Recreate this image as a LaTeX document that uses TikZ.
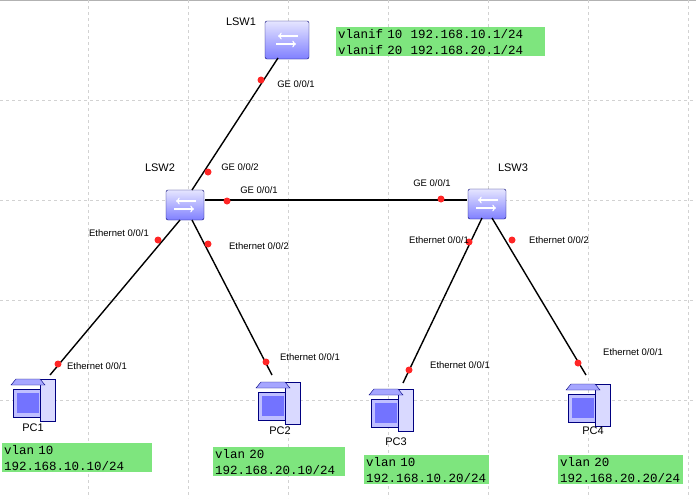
\documentclass[tikz,border=0pt]{standalone}
\usepackage{fontspec}
\setmainfont{Liberation Sans}
\newfontfamily\monof{Liberation Mono}
\begin{document}
\begin{tikzpicture}[x=1pt,y=-1pt,
 grid/.style={gray!35,dashed,line width=0.6pt},
 link/.style={black,line width=1.4pt},
 dot/.style={circle,fill=red!85!white,inner sep=0pt,minimum size=7pt},
 lbl/.style={font=\fontsize{9.5}{10}\selectfont,inner sep=0pt},
 devname/.style={font=\fontsize{11}{12}\selectfont,inner sep=0pt},
 info/.style={fill=green!45!white!90!black,font=\monof\fontsize{12.5}{16}\selectfont,align=left,anchor=north west,inner sep=2pt,text width=#1},
 sw/.style={draw=blue!45!black,rounded corners=2pt,top color=blue!10,bottom color=blue!50,minimum width=38pt,minimum height=30pt,inner sep=0pt},
 pc/.style={inner sep=0pt,minimum width=44pt,minimum height=44pt}]
\useasboundingbox (0,0) rectangle (696,498);
\draw[gray!60,line width=1pt] (0,0.5) -- (696,0.5);
\foreach \x in {88,188,288,388,488,588,688} \draw[grid] (\x,0) -- (\x,498);
\foreach \y in {100,200,300,400} \draw[grid] (0,\y) -- (696,\y);
% devices
\node[sw,minimum width=44pt,minimum height=38pt] (lsw1) at (287,40) {};
\node[sw] (lsw2) at (185,205) {};
\node[sw] (lsw3) at (487,204) {};
\foreach \n in {lsw1,lsw2,lsw3}{
 \draw[white,line width=1.4pt,->] ([xshift=-11pt,yshift=-4pt]\n.center) -- ([xshift=9pt,yshift=-4pt]\n.center);
 \draw[white,line width=1.4pt,<-] ([xshift=-9pt,yshift=4pt]\n.center) -- ([xshift=11pt,yshift=4pt]\n.center);}
\foreach \n/\p in {pc1/{(35,397)},pc2/{(280,400)},pc3/{(393,407)},pc4/{(590,402)}}{
 \node[pc] (\n) at \p {};
 \draw[blue!50!black,fill=blue!25] ([xshift=-22pt,yshift=-20pt]\n.center) rectangle ([xshift=8pt,yshift=8pt]\n.center);
 \fill[blue!55] ([xshift=-18pt,yshift=-16pt]\n.center) rectangle ([xshift=4pt,yshift=4pt]\n.center);
 \draw[blue!50!black,fill=blue!15] ([xshift=5pt,yshift=-24pt]\n.center) rectangle ([xshift=20pt,yshift=18pt]\n.center);
 \draw[blue!50!black,fill=blue!35] ([xshift=-24pt,yshift=12pt]\n.center) -- ([xshift=10pt,yshift=12pt]\n.center) -- ([xshift=5pt,yshift=18pt]\n.center) -- ([xshift=-19pt,yshift=18pt]\n.center) -- cycle;}
\node[devname] at (241,22) {LSW1};
\node[devname] at (160,168) {LSW2};
\node[devname] at (513,168) {LSW3};
\node[devname] at (33,428) {PC1};
\node[devname] at (280,431) {PC2};
\node[devname] at (396,442) {PC3};
\node[devname] at (593,431) {PC4};
% links
\coordinate (a1) at (278,58); \coordinate (a2) at (192,190);
\draw[link] (a1) -- (a2);
\coordinate (b1) at (205,200); \coordinate (b2) at (467,200);
\draw[link] (b1) -- (b2);
\coordinate (s2) at (180,220); \coordinate (s3) at (482,218);
\coordinate (s2b) at (192,220); \coordinate (s3b) at (492,218);
\coordinate (p1) at (50,375); \coordinate (p2) at (272,375);
\coordinate (p3) at (403,383); \coordinate (p4) at (586,375);
\draw[link] (s2) -- (p1); \draw[link] (s2b) -- (p2);
\draw[link] (s3) -- (p3); \draw[link] (s3b) -- (p4);
\foreach \p in {(261,80),(208,172),(227,201),(441,199),(158,240),(58,364),(208,244),(266,362),(469,242),(409,370),(512,240),(578,363)} \node[dot] at \p {};
\node[lbl] at (296,84) {GE 0/0/1};
\node[lbl] at (240,167) {GE 0/0/2};
\node[lbl] at (259,190) {GE 0/0/1};
\node[lbl] at (432,183) {GE 0/0/1};
\node[lbl] at (119,233) {Ethernet 0/0/1};
\node[lbl] at (97,366) {Ethernet 0/0/1};
\node[lbl] at (259,246) {Ethernet 0/0/2};
\node[lbl] at (310,357) {Ethernet 0/0/1};
\node[lbl] at (439,240) {Ethernet 0/0/1};
\node[lbl] at (460,365) {Ethernet 0/0/1};
\node[lbl] at (559,240) {Ethernet 0/0/2};
\node[lbl] at (633,352) {Ethernet 0/0/1};
% info boxes
\node[info=205pt] (i1) at (336,27) {vlanif 10~~192.168.10.1/24\\vlanif 20~~192.168.20.1/24};
\node[info=146pt] (i2) at (2,443) {vlan 10\\192.168.10.10/24};
\node[info=128pt] (i3) at (213,447) {vlan 20\\192.168.20.10/24};
\node[info=121pt] (i4) at (364,455) {vlan 10\\192.168.10.20/24};
\node[info=121pt] (i5) at (558,455) {vlan 20\\192.168.20.20/24};
\end{tikzpicture}
\end{document}
